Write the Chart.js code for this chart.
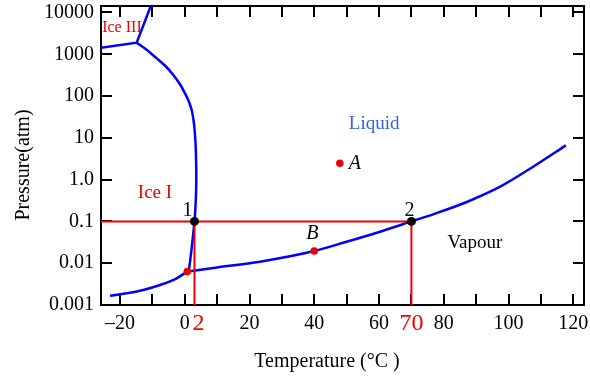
<!DOCTYPE html>
<html>
<head>
<meta charset="utf-8">
<title>Phase diagram of water</title>
<script src="https://cdn.jsdelivr.net/npm/chart.js@4.4.1/dist/chart.umd.min.js"></script>
<style>
  html, body { margin: 0; padding: 0; background: #fff; }
  canvas { display: block; }
</style>
</head>
<body>
<canvas id="phaseChart" width="590" height="379"></canvas>
<script>
// ---- Values (temperature in °C, pressure in atm) ----
const xTickValues = [-20, -10, 0, 10, 20, 30, 40, 50, 60, 70, 80, 90, 100, 110, 120];
const xTickLabels = ['–20', '', '0', '', '20', '', '40', '', '60', '', '80', '', '100', '', '120'];
const yTickValues = [0.001, 0.01, 0.1, 1, 10, 100, 1000, 10000];
const yTickLabels = ['0.001', '0.01', '0.1', '1.0', '10', '100', '1000', '10000'];

// solid / vapour line
const sublimationT = [-23.1, -17.9, -12.8, -7.65, -2.5, 0.78];
const sublimationP = [0.00167, 0.0019, 0.00229, 0.00301, 0.00436, 0.0063];

// liquid / vapour line
const vapourT = [0.78, 9.95, 23.2, 40.0, 50.0, 60.3, 70, 76.7, 87.1, 97.4, 107.6, 117.7];
const vapourP = [0.0063, 0.0079, 0.0109, 0.0196, 0.0327, 0.0568, 0.1, 0.148, 0.292, 0.678, 2.04, 6.62];

// ice I / liquid line
const meltingT = [-14.84, -11.66, -8.67, -5.95, -3.54, -1.53, 0.07, 1.21, 2.14, 2.70,
  3.04, 3.35, 3.50, 3.56, 3.41, 3.0, 1.31, 0.78];
const meltingP = [1892, 1265, 800, 524, 319, 194, 116, 76.2, 46, 26.7,
  15.4, 6.75, 2.95, 0.98, 0.326, 0.1, 0.0071, 0.0063];

// ice III boundaries
const iceIIIT = [-25.9, -14.84, -10.5];
const iceIIIP = [1436, 1892, 14300];

// red guide lines at P = 0.1 atm
const guideP = 0.1;
const guideT = [3, 70];
const guideLabels = ['2', '70'];

// marked points
const blackPointT = [3, 70];
const blackPointP = [0.1, 0.1];
const blackPointNames = ['1', '2'];
const redPointT = [0.78, 40.0, 47.9];
const redPointP = [0.0063, 0.0196, 2.46];
const redPointNames = ['', 'B', 'A'];

const regionNames = ['Liquid', 'Ice I', 'Ice III', 'Vapour'];
const regionT = [58.5, -9.2, -19.4, 89.6];
const regionP = [21.4, 0.471, 4250, 0.0305];

// ---- Axis ranges ----
const X_MIN = -25.87;
const X_MAX = 123.3;
const Y_MIN = 0.001;
const Y_MAX = 14300;

const SERIF = '"Liberation Serif", "Times New Roman", serif';
const BLUE = '#0000ff';
const RED = '#f00000';

const toPoints = (xs, ys) => xs.map((x, i) => ({ x, y: ys[i] }));

// label styles (colour, size, offsets) kept apart from the data
const regionStyles = [
  { color: '#2f66dd', size: 19 },
  { color: RED, size: 19 },
  { color: RED, size: 16 },
  { color: '#000', size: 19 },
];
const pointLabelOffsets = {
  '1': [-7, -11], '2': [-2, -11], 'A': [15, 0], 'B': [-2, -17],
};

// ---- Frame, inward ticks and text ----
const phasePlugin = {
  id: 'phaseDecor',
  beforeDatasetsDraw(chart) {
    const { ctx, chartArea: a, scales } = chart;
    const len = 11;
    ctx.save();
    ctx.strokeStyle = '#000';
    ctx.lineWidth = 2;
    ctx.beginPath();
    xTickValues.forEach((v) => {
      const px = Math.round(scales.x.getPixelForValue(v));
      ctx.moveTo(px, a.bottom); ctx.lineTo(px, a.bottom - len);
      ctx.moveTo(px, a.top); ctx.lineTo(px, a.top + len);
    });
    yTickValues.forEach((v) => {
      const py = Math.round(scales.y.getPixelForValue(v));
      ctx.moveTo(a.left, py); ctx.lineTo(a.left + len, py);
      ctx.moveTo(a.right, py); ctx.lineTo(a.right - len, py);
    });
    ctx.stroke();
    ctx.strokeRect(a.left, a.top, a.right - a.left, a.bottom - a.top);
    ctx.restore();
  },
  afterDraw(chart) {
    const { ctx, chartArea: a, scales } = chart;
    ctx.save();
    ctx.textAlign = 'center';
    ctx.textBaseline = 'middle';

    regionNames.forEach((name, i) => {
      const st = regionStyles[i];
      ctx.fillStyle = st.color;
      ctx.font = `${st.size}px ${SERIF}`;
      ctx.fillText(name, scales.x.getPixelForValue(regionT[i]), scales.y.getPixelForValue(regionP[i]));
    });

    ctx.fillStyle = '#000';
    blackPointNames.forEach((name, i) => {
      const [dx, dy] = pointLabelOffsets[name];
      ctx.font = `20px ${SERIF}`;
      ctx.fillText(name, scales.x.getPixelForValue(blackPointT[i]) + dx,
        scales.y.getPixelForValue(blackPointP[i]) + dy);
    });
    redPointNames.forEach((name, i) => {
      if (!name) return;
      const [dx, dy] = pointLabelOffsets[name];
      ctx.font = `italic 20px ${SERIF}`;
      ctx.fillText(name, scales.x.getPixelForValue(redPointT[i]) + dx,
        scales.y.getPixelForValue(redPointP[i]) + dy);
    });

    // red temperature labels under the guide lines
    ctx.fillStyle = RED;
    ctx.font = `24px ${SERIF}`;
    guideT.forEach((t, i) => {
      const dx = i === 0 ? 4 : 0;
      ctx.fillText(guideLabels[i], scales.x.getPixelForValue(t) + dx, a.bottom + 19);
    });

    // axis titles
    ctx.fillStyle = '#000';
    ctx.font = `20px ${SERIF}`;
    ctx.fillText('Temperature (°C )', 327, 362);
    ctx.translate(24, 165);
    ctx.rotate(-Math.PI / 2);
    ctx.fillText('Pressure(atm)', 0, 0);
    ctx.restore();
  },
};

// ---- Datasets (first listed is drawn on top) ----
const datasets = [
  {
    label: 'Points 1, 2',
    data: toPoints(blackPointT, blackPointP),
    showLine: false, pointRadius: 4.5, pointBackgroundColor: '#000', pointBorderWidth: 0,
  },
  {
    label: 'Triple point, A, B',
    data: toPoints(redPointT, redPointP),
    showLine: false, pointRadius: 3.8, pointBackgroundColor: RED, pointBorderWidth: 0,
  },
  {
    label: 'P = 0.1 atm',
    data: [{ x: X_MIN, y: guideP }, { x: guideT[1], y: guideP }],
    showLine: true, borderColor: RED, borderWidth: 2, pointRadius: 0,
  },
  ...guideT.map((t) => ({
    label: `T = ${t}`,
    data: [{ x: t, y: guideP }, { x: t, y: Y_MIN }],
    showLine: true, borderColor: RED, borderWidth: 2, pointRadius: 0,
  })),
  {
    label: 'Sublimation',
    data: toPoints(sublimationT, sublimationP),
    showLine: true, borderColor: BLUE, borderWidth: 2.5, pointRadius: 0,
    cubicInterpolationMode: 'monotone',
  },
  {
    label: 'Vaporisation',
    data: toPoints(vapourT, vapourP),
    showLine: true, borderColor: BLUE, borderWidth: 2.5, pointRadius: 0,
    cubicInterpolationMode: 'monotone',
  },
  {
    label: 'Melting',
    data: toPoints(meltingT, meltingP),
    showLine: true, borderColor: BLUE, borderWidth: 2.5, pointRadius: 0,
    tension: 0.2,
  },
  {
    label: 'Ice III',
    data: toPoints(iceIIIT, iceIIIP),
    showLine: true, borderColor: BLUE, borderWidth: 2.5, pointRadius: 0,
  },
];

new Chart(document.getElementById('phaseChart').getContext('2d'), {
  type: 'scatter',
  data: { datasets },
  options: {
    responsive: false,
    animation: false,
    devicePixelRatio: 1,
    layout: { padding: { top: 6, right: 6, left: 0, bottom: 0 } },
    plugins: {
      legend: { display: false },
      tooltip: { enabled: false },
    },
    scales: {
      x: {
        type: 'linear',
        min: X_MIN,
        max: X_MAX,
        grid: { display: false, drawTicks: false },
        border: { display: false },
        afterBuildTicks: (scale) => {
          scale.ticks = xTickValues.map((value) => ({ value }));
        },
        afterFit: (scale) => {
          scale.height = 74;
          scale.paddingLeft = 0;
          scale.paddingRight = 0;
        },
        ticks: {
          autoSkip: false,
          maxRotation: 0,
          padding: 7,
          color: '#000',
          font: { family: SERIF, size: 20 },
          callback: (value, index) => xTickLabels[index],
        },
      },
      y: {
        type: 'logarithmic',
        min: Y_MIN,
        max: Y_MAX,
        grid: { display: false, drawTicks: false },
        border: { display: false },
        afterBuildTicks: (scale) => {
          scale.ticks = yTickValues.map((value) => ({ value }));
        },
        afterFit: (scale) => {
          scale.width = 101;
          scale.paddingTop = 0;
          scale.paddingBottom = 0;
        },
        ticks: {
          autoSkip: false,
          padding: 7,
          color: '#000',
          font: { family: SERIF, size: 20 },
          callback: (value, index) => yTickLabels[index],
        },
      },
    },
  },
  plugins: [phasePlugin],
});
</script>
</body>
</html>
